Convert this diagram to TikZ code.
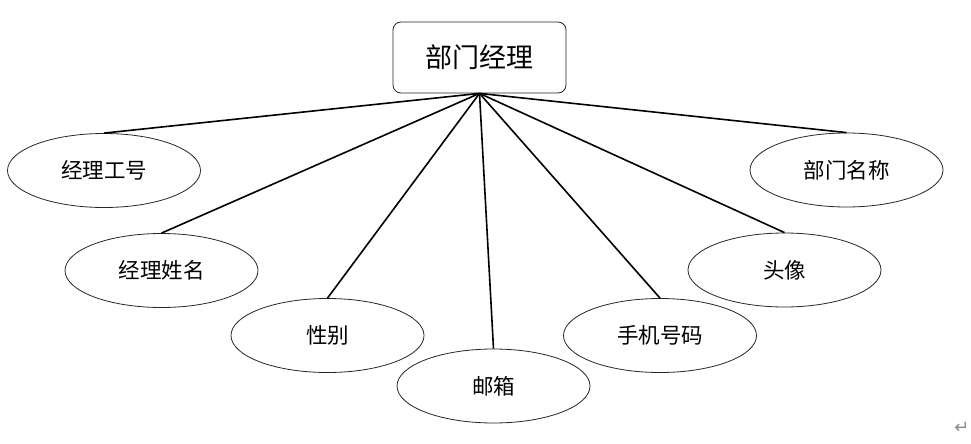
\documentclass[tikz,border=0pt]{standalone}
\usepackage{fontspec}
\newfontfamily\cjk{Noto Sans CJK SC}
\newfontfamily\dejavu{DejaVu Sans}
\usetikzlibrary{shapes.geometric}
\begin{document}
\begin{tikzpicture}[x=1pt,y=-1pt,
  attr/.style={ellipse,draw=black!85,line width=0.8pt,minimum width=193pt,minimum height=74pt,inner sep=0pt,font=\cjk\fontsize{21.5}{24}\selectfont},
  rootbox/.style={draw=black!85,line width=0.8pt,rounded corners=8pt,minimum width=173pt,minimum height=71pt,font=\cjk\fontsize{27}{30}\selectfont},
  link/.style={line width=1.6pt}]
\useasboundingbox (0,0) rectangle (971,444);
\node[rootbox] (r) at (479.5,57.5) {部门经理};
\node[attr] (a1) at (104,170.5) {经理工号};
\node[attr] (a2) at (161.5,270.5) {经理姓名};
\node[attr] (a3) at (327.5,335.5) {性别};
\node[attr] (a4) at (493.5,386) {邮箱};
\node[attr] (a5) at (660,335.5) {手机号码};
\node[attr] (a6) at (784.5,270) {头像};
\node[attr] (a7) at (846.5,170) {部门名称};
\foreach \n in {a1,a2,a3,a4,a5,a6,a7} \draw[link] (r.south) -- (\n.north);
\node[font=\dejavu\fontsize{18}{18}\selectfont,text=black!45] (m) at (962,428) {↵};
\end{tikzpicture}
\end{document}
